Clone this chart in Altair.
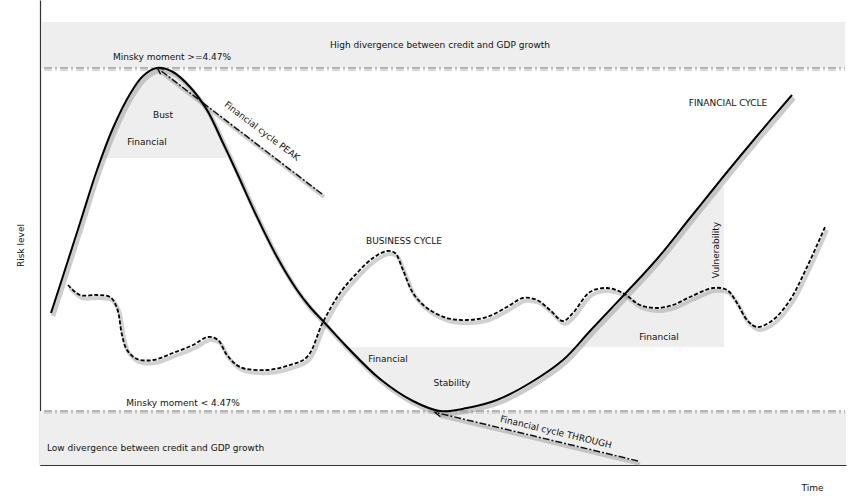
import altair as alt
import pandas as pd

# ---------------- data (x = time, y = risk level) ----------------
fin_x = [51, 63, 80, 97, 113, 130, 143, 157, 173, 190, 207, 223, 237, 257, 277, 297, 310, 323,
         347, 380, 413, 440, 467, 497, 530, 563, 590, 623, 657, 690, 723, 757, 792]
fin_y = [152, 189, 242, 295, 337, 371, 389, 397, 393, 378, 355, 322, 292, 248, 208, 175, 158, 144,
         118, 86, 64, 54, 57, 65, 82, 105, 134, 169, 206, 247, 288, 329, 370]

bus_x = [68, 80, 97, 110, 117, 122, 127, 137, 153, 173, 193, 208, 218, 227, 240, 267, 290, 307,
         323, 340, 357, 373, 387, 395, 403, 413, 427, 447, 467, 487, 507, 523, 537, 550, 563, 573,
         590, 607, 623, 640, 657, 673, 690, 713, 727, 737, 747, 757, 773, 790, 807, 825]
bus_y = [180, 170, 170, 168, 157, 130, 115, 106, 105, 112, 120, 128, 125, 110, 98, 95, 100, 108,
         143, 172, 192, 207, 214, 212, 195, 172, 157, 147, 145, 148, 158, 167, 165, 155, 144, 152,
         173, 177, 172, 160, 157, 160, 168, 177, 175, 162, 145, 138, 145, 165, 198, 238]

# shaded zones: x, upper, lower
bust_x = [101, 113, 130, 143, 157, 173, 190, 207, 223, 227]
bust_hi = [307, 337, 371, 389, 397, 393, 378, 355, 322, 313]
bust_lo = 307
stab_x = [347, 380, 413, 440, 467, 497, 530, 563, 575]
stab_lo = [118, 86, 64, 54, 57, 65, 82, 105, 118]
stab_hi = 118
vuln_x = [575, 590, 623, 657, 690, 714, 724]
vuln_hi = [118, 134, 169, 206, 247, 277, 277]
vuln_lo = 118

# bands (divergence zones)
band_x1 = [42, 40]
band_x2 = [845, 846]
band_y1 = [397, 0]
band_y2 = [443, 54]

# Minsky thresholds
minsky_levels = [397, 54]

# arrows (tail -> tip)
arrow_names = ["PEAK", "PEAK", "THROUGH", "THROUGH"]
arrow_x = [322, 160, 638, 438]
arrow_y = [271, 395, 4, 52]
arrow_head_angle = [307, 283]

# labels
lab_text = ["High divergence between credit and GDP growth", "Minsky moment  >=4.47%", "Bust",
            "Financial", "Financial cycle PEAK", "FINANCIAL CYCLE", "BUSINESS CYCLE",
            "Vulnerability", "Financial", "Financial", "Stability", "Minsky moment  < 4.47%",
            "Financial cycle THROUGH"]
lab_x = [440, 172, 163, 147, 262, 728, 404, 716, 659, 388, 452, 183, 556]
lab_y = [420, 408, 350, 323, 334, 362, 224, 215, 128, 106, 82, 62, 33]
lab_angle = [0, 0, 0, 0, 37, 0, 0, 270, 0, 0, 0, 0, 13.5]

low_text = ["Low divergence between credit and GDP growth"]
low_x = [47]
low_y = [17]

FONT = "DejaVu Sans"
GRAY = "#eeeeee"
TXT = "#111111"
XD = [40, 846]
YD = [0, 465]

x_axis = alt.Axis(title="Time", ticks=False, labels=False, grid=False, domainColor="#333",
                  domainWidth=1.2, titleFont=FONT, titleFontSize=9, titleFontWeight="normal",
                  titleColor=TXT, titleX=772, titleY=22, titleAlign="center",
                  titleBaseline="middle")
y_axis = alt.Axis(title="Risk level", ticks=False, labels=False, grid=False, domainColor="#333",
                  domainWidth=1.2, titleFont=FONT, titleFontSize=9, titleFontWeight="normal",
                  titleColor=TXT, titleX=-20, titleY=245, titleAlign="center",
                  titleBaseline="middle", titleAngle=270)


def X(field="x"):
    return alt.X(f"{field}:Q", scale=alt.Scale(domain=XD, nice=False, zero=False), axis=x_axis)


def Y(field="y"):
    return alt.Y(f"{field}:Q", scale=alt.Scale(domain=YD, nice=False, zero=False), axis=y_axis)


fin = pd.DataFrame({"x": fin_x, "y": fin_y, "o": range(len(fin_x))})
bus = pd.DataFrame({"x": bus_x, "y": bus_y, "o": range(len(bus_x))})
bands = pd.DataFrame({"x": band_x1, "x2": band_x2, "y": band_y1, "y2": band_y2})
zones = pd.concat([
    pd.DataFrame({"zone": "bust", "x": bust_x, "y": bust_hi, "y2": bust_lo}),
    pd.DataFrame({"zone": "stab", "x": stab_x, "y": stab_hi, "y2": stab_lo}),
    pd.DataFrame({"zone": "vuln", "x": vuln_x, "y": vuln_hi, "y2": vuln_lo}),
])
minsky = pd.DataFrame({"y": minsky_levels, "x": [44, 44], "x2": [845, 845]})
arrows = pd.DataFrame({"name": arrow_names, "x": arrow_x, "y": arrow_y, "o": [0, 1, 0, 1]})
heads = arrows[arrows["o"] == 1].copy()
heads["angle"] = arrow_head_angle
labels = pd.DataFrame({"t": lab_text, "x": lab_x, "y": lab_y, "angle": lab_angle})
low = pd.DataFrame({"t": low_text, "x": low_x, "y": low_y})

INTERP = "catmull-rom"

band_layer = alt.Chart(bands).mark_rect(color=GRAY).encode(
    x=X("x"), x2="x2:Q", y=Y("y"), y2="y2:Q")

zone_layer = alt.Chart(zones).mark_area(color=GRAY, interpolate=INTERP).encode(
    x=X(), y=Y(), y2="y2:Q", detail="zone:N")

minsky_shadow = alt.Chart(minsky).mark_rule(color="#cccccc", strokeWidth=1.5,
                                            strokeDash=[8, 3, 2, 3], yOffset=2).encode(
    x=X(), x2="x2:Q", y=Y())
minsky_layer = alt.Chart(minsky).mark_rule(color="#777777", strokeWidth=1.2,
                                           strokeDash=[8, 3, 2, 3]).encode(
    x=X(), x2="x2:Q", y=Y())

fin_shadow = alt.Chart(fin).mark_line(color="#999999", strokeWidth=4.5, opacity=0.5,
                                      interpolate=INTERP, xOffset=2, yOffset=3).encode(
    x=X(), y=Y(), order="o:Q")
bus_shadow = alt.Chart(bus).mark_line(color="#999999", strokeWidth=4, opacity=0.45,
                                      interpolate=INTERP, xOffset=2, yOffset=3).encode(
    x=X(), y=Y(), order="o:Q")
arrow_shadow = alt.Chart(arrows).mark_line(color="#999999", strokeWidth=3.5, opacity=0.5,
                                           xOffset=2, yOffset=3).encode(
    x=X(), y=Y(), order="o:Q", detail="name:N")

arrow_layer = alt.Chart(arrows).mark_line(color="#111111", strokeWidth=1.5,
                                          strokeDash=[7, 2, 2, 2]).encode(
    x=X(), y=Y(), order="o:Q", detail="name:N")
head_layer = alt.Chart(heads).mark_point(shape="M -1 1 L 0 -1 L 1 1", filled=False,
                                         color="#111111", strokeWidth=1.4, size=40,
                                         opacity=1).encode(
    x=X(), y=Y(), angle=alt.Angle("angle:Q", scale=None))

fin_layer = alt.Chart(fin).mark_line(color="#000000", strokeWidth=2,
                                     interpolate=INTERP).encode(
    x=X(), y=Y(), order="o:Q")
bus_layer = alt.Chart(bus).mark_line(color="#000000", strokeWidth=1.8, strokeDash=[4, 2],
                                     interpolate=INTERP).encode(
    x=X(), y=Y(), order="o:Q")

label_layer = alt.Chart(labels).mark_text(font=FONT, fontSize=9, color=TXT,
                                          align="center", baseline="middle").encode(
    x=X(), y=Y(), text="t:N", angle=alt.Angle("angle:Q", scale=None))
low_layer = alt.Chart(low).mark_text(font=FONT, fontSize=9, color=TXT,
                                     align="left", baseline="middle").encode(
    x=X(), y=Y(), text="t:N")

chart = alt.layer(
    band_layer, zone_layer, minsky_shadow, minsky_layer,
    fin_shadow, bus_shadow, arrow_shadow,
    arrow_layer, fin_layer, bus_layer, head_layer,
    label_layer, low_layer,
).properties(
    width=806, height=465,
    padding={"left": 40, "top": 0, "right": 4, "bottom": 39},
    autosize="none",
    background="white",
).configure_view(stroke=None)

chart.save("out.html", embed_options={"renderer": "svg", "actions": False})
